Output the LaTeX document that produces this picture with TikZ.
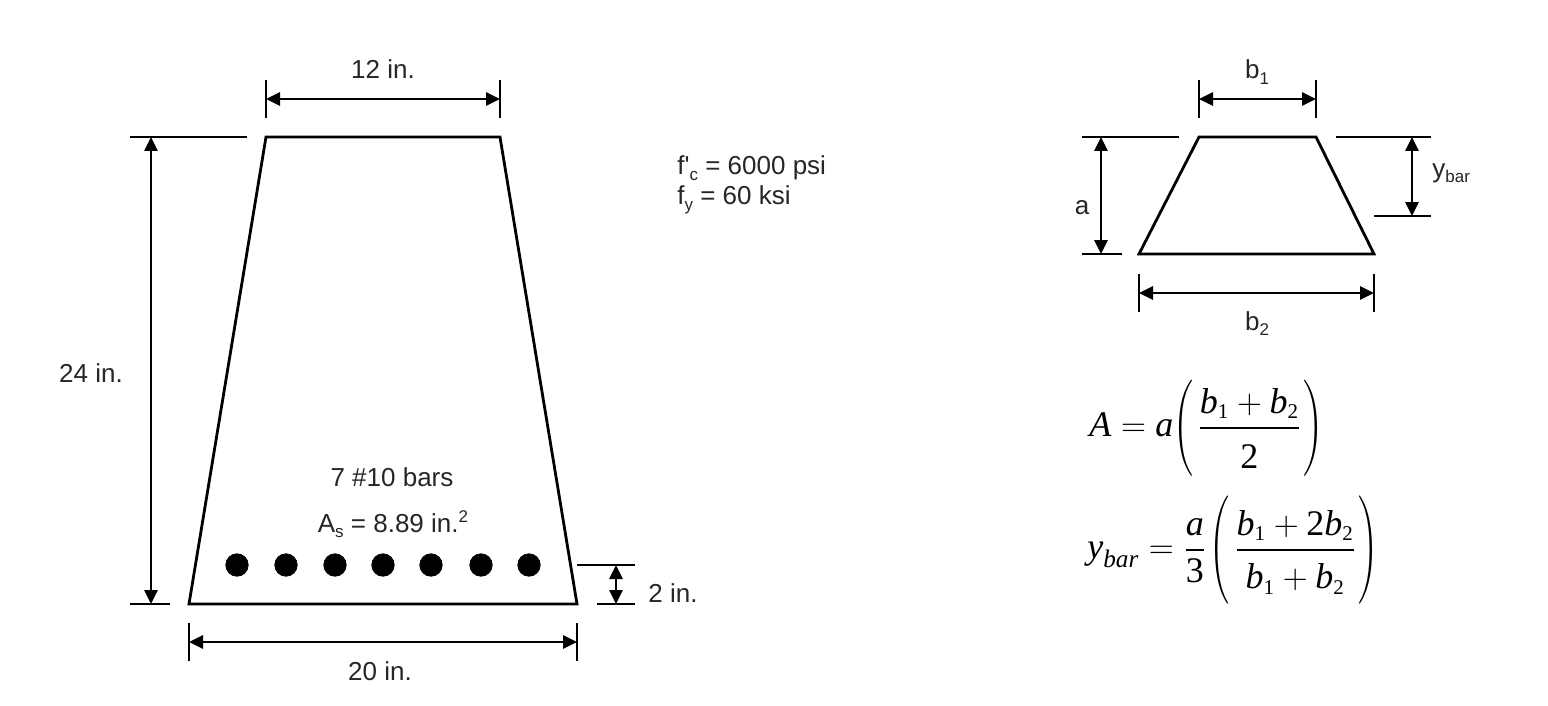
\documentclass[tikz,border=0pt]{standalone}
\usepackage{amsmath}
\usepackage{fontspec}
\setmainfont{Liberation Sans}
\newfontfamily\eqfont{Liberation Serif}
\usepackage{tikz}
\usetikzlibrary{arrows.meta}
\newcommand{\ivar}[1]{\text{\eqfont\itshape #1}}
\newcommand{\rnum}[1]{\text{\eqfont #1}}
\newcommand{\idx}[1]{_{\text{\fontsize{10.5}{12}\selectfont\eqfont #1}}}
\newcommand{\lbig}[1]{\vcenter{\hbox{\resizebox*{10pt}{#1}{$\Biggl($}}}}
\newcommand{\rbig}[1]{\vcenter{\hbox{\resizebox*{10pt}{#1}{$\Biggr)$}}}}
\newcommand{\low}[1]{\raisebox{-2.6pt}{\fontsize{8.5}{10}\selectfont #1}}
\newcommand{\high}[1]{\raisebox{4.6pt}{\fontsize{8.5}{10}\selectfont #1}}
\tikzset{
	outline/.style={black, line width=1.4pt, line join=miter},
	extline/.style={black, line width=1.4pt},
	dimline/.style={black, line width=1.4pt, {Triangle[length=7pt,width=6.5pt]}-{Triangle[length=7pt,width=6.5pt]}},
	lbl/.style={inner sep=0pt, anchor=base, text=black!85, font=\fontsize{13}{15}\selectfont},
	eqn/.style={inner sep=0pt, anchor=west, font=\fontsize{18}{21}\selectfont}
}
\begin{document}
\begin{tikzpicture} [x=0.5pt, y=-0.5pt]
	\useasboundingbox (0,0) rectangle (1548,706);
	% section
	\coordinate (tl) at (266,137);
	\coordinate (tr) at (500,137);
	\coordinate (br) at (577,604);
	\coordinate (bl) at (189,604);
	\draw [outline] (tl)--(tr)--(br)--(bl)--cycle;
	\foreach \x in {237,286,335,383,431,481,529}
		\filldraw [black] (\x,565) circle (5.6pt);
	\draw [extline] (266,80)--(266,118);
	\draw [extline] (500,80)--(500,118);
	\draw [dimline] (266,99)--(500,99);
	\draw [extline] (130,137)--(247,137);
	\draw [extline] (130,604)--(170,604);
	\draw [dimline] (151,137)--(151,604);
	\draw [extline] (189,623)--(189,661);
	\draw [extline] (577,623)--(577,661);
	\draw [dimline] (189,642)--(577,642);
	\draw [extline] (577,565)--(635,565);
	\draw [extline] (597,604)--(635,604);
	\draw [dimline] (616,565)--(616,604);
	\node [lbl] (top) at (383,79) {12 in.};
	\node [lbl] (height) at (91,382) {24 in.};
	\node [lbl] (bottom) at (380,680) {20 in.};
	\node [lbl] (cover) at (673,602) {2 in.};
	\node [lbl, anchor=base west] (fc) at (677,175) {f\textquotesingle\low{c} = 6000 psi};
	\node [lbl, anchor=base west] (fy) at (677,205) {f\low{y} = 60 ksi};
	\node [lbl] (bars) at (392,486) {7 \#10 bars};
	\node [lbl] (as) at (393,532) {A\low{s} = 8.89 in.\high{2}};
	% stress block
	\coordinate (stl) at (1199,137);
	\coordinate (str) at (1316,137);
	\coordinate (sbr) at (1374,254);
	\coordinate (sbl) at (1139,254);
	\draw [outline] (stl)--(str)--(sbr)--(sbl)--cycle;
	\draw [extline] (1199,80)--(1199,118);
	\draw [extline] (1316,80)--(1316,118);
	\draw [dimline] (1199,99)--(1316,99);
	\draw [extline] (1082,137)--(1179,137);
	\draw [extline] (1082,254)--(1122,254);
	\draw [dimline] (1101,137)--(1101,254);
	\draw [extline] (1336,137)--(1431,137);
	\draw [extline] (1374,216)--(1431,216);
	\draw [dimline] (1412,137)--(1412,216);
	\draw [extline] (1139,274)--(1139,312);
	\draw [extline] (1374,274)--(1374,312);
	\draw [dimline] (1139,293)--(1374,293);
	\node [lbl] (bone) at (1257,79) {b\low{1}};
	\node [lbl] (btwo) at (1257,330) {b\low{2}};
	\node [lbl] (adepth) at (1082,214) {a};
	\node [lbl, anchor=base west] (ybar) at (1432,177) {y\low{bar}};
	% equations
	\node [eqn] (eqa) at (1089,428) {$\ivar{A}=\ivar{a}\lbig{48pt}\hspace{2pt}\dfrac{\ivar{b}\idx{1}+\ivar{b}\idx{2}}{\rule{0pt}{18pt}\rnum{2}}\hspace{1pt}\rbig{48pt}$};
	\node [eqn] (eqy) at (1087,550) {$\ivar{y}_{\ivar{bar}}=\dfrac{\ivar{a}}{\rnum{3}}\hspace{1.5pt}\lbig{54pt}\hspace{2.5pt}\dfrac{\ivar{b}\idx{1}+\rnum{2}\ivar{b}\idx{2}}{\rule{0pt}{17pt}\ivar{b}\idx{1}+\ivar{b}\idx{2}}\hspace{1pt}\rbig{54pt}$};
\end{tikzpicture}
\end{document}
